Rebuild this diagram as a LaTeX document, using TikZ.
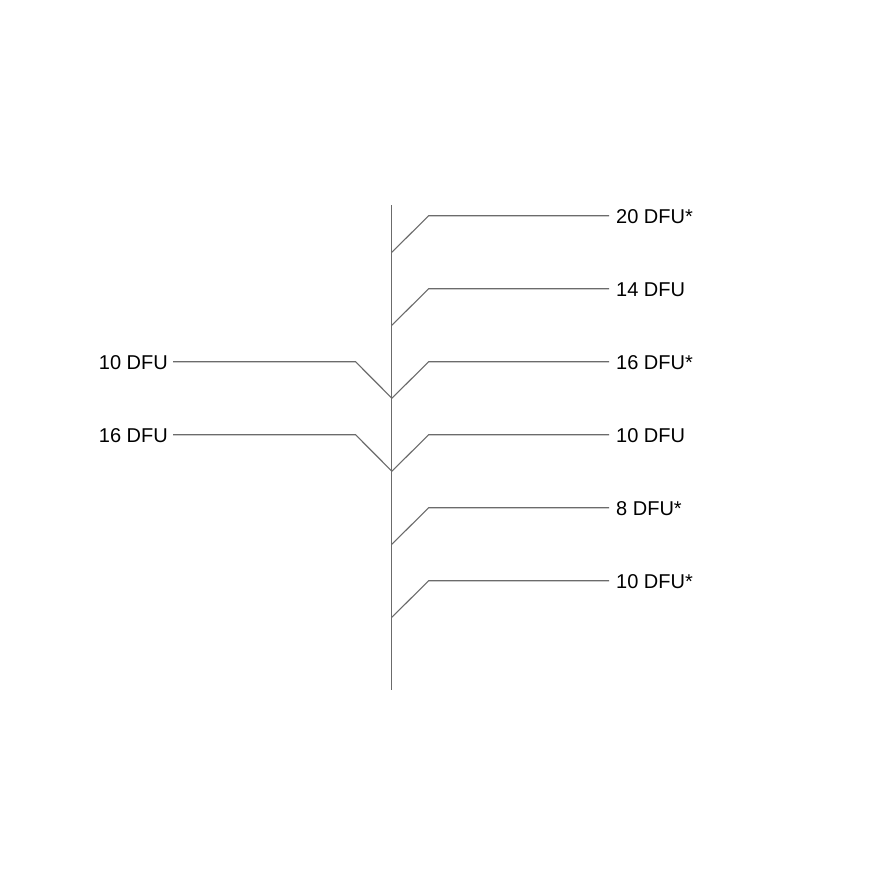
\documentclass[tikz,border=0pt]{standalone}
\usepackage{fontspec}
\setmainfont{Liberation Sans}
\tikzset{
    pipe/.style={draw=black!58, line width=1.1pt},
    dfu/.style={font=\fontsize{20}{24}\selectfont, text=black, text height=15.8pt, text depth=0pt, inner ysep=0pt, inner xsep=7pt},
    dfuleft/.style={dfu, inner xsep=5pt, anchor=east}
}
\begin{document}
\begin{tikzpicture}[x=1pt,y=-1pt]
    \useasboundingbox (0,0) rectangle (892,892);
    \fill[white] (0,0) rectangle (892,892);

    % Stack
    \coordinate (Top) at (391.9,205);
    \coordinate (Bottom) at (391.9,690);
    \draw[pipe] (Top) -- (Bottom);

    % Right branches
    \foreach \name/\y/\txt in {ra/215.7/20 DFU*, rb/288.7/14 DFU, rc/361.7/16 DFU*, rd/434.7/10 DFU, re/507.7/8 DFU*, rf/580.7/10 DFU*} {
        \node[dfu, anchor=west] (\name) at (609,\y) {\txt};
        \coordinate (\name j) at (391.9,\y+36.5);
        \draw[pipe] (\name j) -- (428.7,\y) -- (\name.west);
    }

    % Left branches
    \foreach \name/\y/\txt in {la/361.7/10 DFU, lb/434.7/16 DFU} {
        \node[dfuleft] (\name) at (173,\y) {\txt};
        \coordinate (\name j) at (391.9,\y+36.5);
        \draw[pipe] (\name j) -- (355.5,\y) -- (\name.east);
    }
\end{tikzpicture}
\end{document}
